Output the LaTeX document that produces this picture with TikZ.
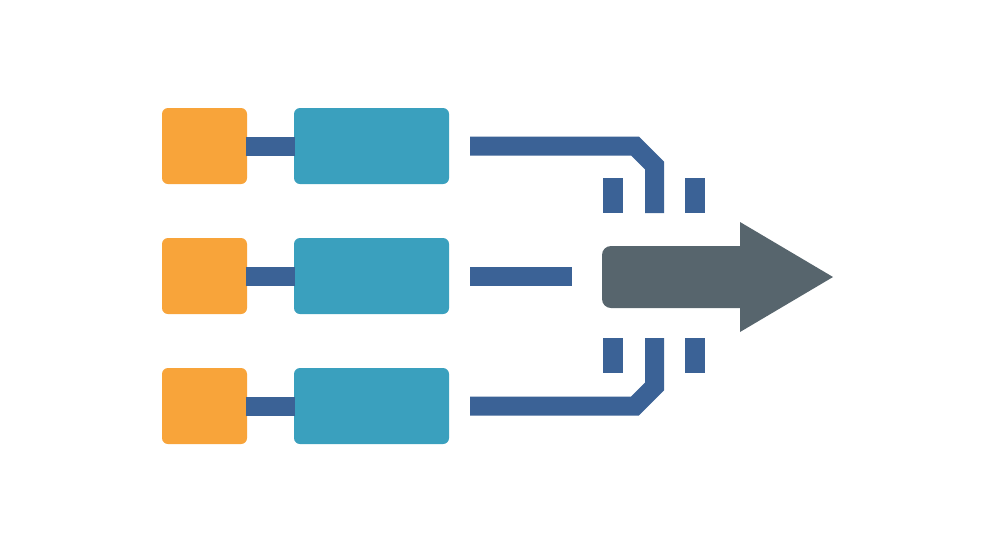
\documentclass[tikz,border=0pt]{standalone}
\usetikzlibrary{calc}
\definecolor{boxorange}{RGB}{248,164,58}
\definecolor{boxteal}{RGB}{58,160,190}
\definecolor{linkblue}{RGB}{59,98,150}
\definecolor{arrowgray}{RGB}{87,101,109}
\begin{document}
\begin{tikzpicture}[x=1pt,y=-1pt,
  obox/.style={fill=boxorange,draw=none,rounded corners=6pt,minimum width=85pt,minimum height=76pt,inner sep=0pt,outer sep=0pt},
  tbox/.style={fill=boxteal,draw=none,rounded corners=6pt,minimum width=155pt,minimum height=76pt,inner sep=0pt,outer sep=0pt},
  tick/.style={fill=linkblue,draw=none,minimum width=20pt,minimum height=35pt,inner sep=0pt,outer sep=0pt},
  link/.style={draw=linkblue,line width=19pt,line cap=butt,miter limit=10}]
\useasboundingbox (0,0) rectangle (992,558);
\fill[white] (0,0) rectangle (992,558);
% boxes
\node[obox] (o1) at (204.5,146) {};
\node[obox] (o2) at (204.5,276) {};
\node[obox] (o3) at (204.5,406) {};
\node[tbox] (t1) at (371.5,146) {};
\node[tbox] (t2) at (371.5,276) {};
\node[tbox] (t3) at (371.5,406) {};
% short links
\draw[link] ([xshift=-1pt]o1.east) -- ([xshift=1pt]t1.west);
\draw[link] ([xshift=-1pt]o2.east) -- ([xshift=1pt]t2.west);
\draw[link] ([xshift=-1pt]o3.east) -- ([xshift=1pt]t3.west);
% ticks
\node[tick] (s1) at (613,195.5) {};
\node[tick] (s2) at (695,195.5) {};
\node[tick] (s3) at (613,355.5) {};
\node[tick] (s4) at (695,355.5) {};
% long links
\draw[link] ([xshift=21pt]t1.east) -- ++(165,0) -- ++(19.5,19.5) -- ++(0,47.5) coordinate (e1);
\draw[link] ([xshift=21pt]t2.east) -- ++(102,0) coordinate (e2);
\draw[link] ([xshift=21pt]t3.east) -- ++(165,0) -- ++(19.5,-19.5) -- ++(0,-48.5) coordinate (e3);
% big arrow
\fill[arrowgray] (833,277) -- (740,222) -- (740,246) [rounded corners=9pt] -- (602,246) -- (602,308) [sharp corners] -- (740,308) -- (740,332) -- cycle;
\end{tikzpicture}
\end{document}
